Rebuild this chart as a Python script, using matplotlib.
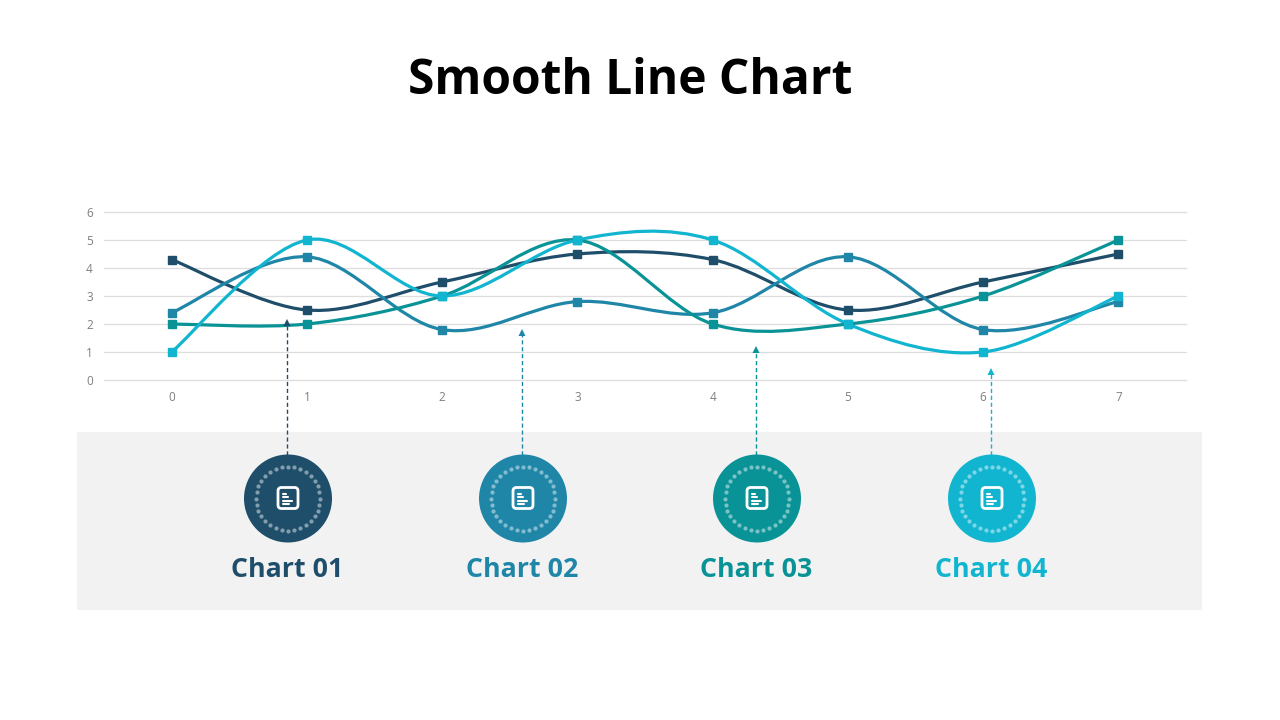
# Smooth line chart slide
import numpy as np
import matplotlib
matplotlib.use('Agg')
import matplotlib.pyplot as plt
from matplotlib.path import Path
from matplotlib.patches import PathPatch, Circle, Rectangle, FancyBboxPatch

# Data
x_vals = [0, 1, 2, 3, 4, 5, 6, 7]
chart_01 = [4.3, 2.5, 3.5, 4.5, 4.3, 2.5, 3.5, 4.5]
chart_02 = [2.4, 4.4, 1.8, 2.8, 2.4, 4.4, 1.8, 2.8]
chart_03 = [2, 2, 3, 5, 2, 2, 3, 5]
chart_04 = [1, 5, 3, 5, 5, 2, 1, 3]
y_ticks = [0, 1, 2, 3, 4, 5, 6]
names = ['Chart 01', 'Chart 02', 'Chart 03', 'Chart 04']
colors = ['#1F4E6B', '#1F86A8', '#0A9396', '#12B5D0']
series = [chart_01, chart_02, chart_03, chart_04]


# Excel style smoothing, bezier through every point
def smooth_path(xs, ys):
    pts = np.column_stack([xs, ys]).astype(float)
    n = len(pts)
    verts = [pts[0]]
    codes = [Path.MOVETO]
    for i in range(n - 1):
        p0 = pts[max(i - 1, 0)]
        p1 = pts[i]
        p2 = pts[i + 1]
        p3 = pts[min(i + 2, n - 1)]
        verts += [p1 + (p2 - p0) / 6, p2 - (p3 - p1) / 6, p2]
        codes += [Path.CURVE4, Path.CURVE4, Path.CURVE4]
    return Path(verts, codes)


fig = plt.figure(figsize=(12.8, 7.2), dpi=100, facecolor='white')

# Overlay in pixel coords for the slide furniture
bg = fig.add_axes([0, 0, 1, 1], zorder=0)
bg.set_xlim(0, 1280)
bg.set_ylim(720, 0)
bg.axis('off')
bg.add_patch(Rectangle((77, 432), 1125, 178, fc='#F2F2F2', ec='none'))

# Chart
ax = fig.add_axes([104 / 1280, 1 - 380 / 720, (1186 - 104) / 1280, 168 / 720], zorder=1)
ax.patch.set_alpha(0)
ax.set_xlim(-0.5, 7.5)
ax.set_ylim(0, 6)
ax.set_xticks(x_vals)
ax.set_yticks(y_ticks)
ax.tick_params(length=0, labelsize=8.5, labelcolor='#7F7F7F')
ax.tick_params(axis='x', pad=8)
ax.tick_params(axis='y', pad=8)
ax.grid(axis='y', color='#DDDDDD', lw=0.9, clip_on=False)
ax.set_axisbelow(True)
for s in ax.spines.values():
    s.set_visible(False)
for lab in ax.get_xticklabels() + ax.get_yticklabels():
    lab.set_family('Open Sans')

for vals, col in zip(series, colors):
    ax.add_patch(PathPatch(smooth_path(x_vals, vals), fc='none', ec=col, lw=2.3,
                           capstyle='round', clip_on=False))
    ax.plot(x_vals, vals, ls='none', marker='s', ms=5.5, color=col, clip_on=False)

# Circles, arrows and labels
top = fig.add_axes([0, 0, 1, 1], zorder=2)
top.set_xlim(0, 1280)
top.set_ylim(720, 0)
top.axis('off')
top.patch.set_alpha(0)

centers = [288, 523, 757, 992]
arrow_tips = [319, 329, 346, 368]
cy = 498.5
for cx, tip, name, col in zip(centers, arrow_tips, names, colors):
    ax_x = cx - 1
    top.plot([ax_x, ax_x], [cy - 44, tip + 6], color=col, lw=1, ls=(0, (3, 2)))
    top.fill([ax_x - 3.5, ax_x + 3.5, ax_x], [tip + 7, tip + 7, tip], color=col, lw=0)
    top.add_patch(Circle((cx, cy), 44, fc=col, ec='none'))
    ang = np.linspace(0, 2 * np.pi, 32, endpoint=False)
    top.scatter(cx + 32 * np.cos(ang), cy + 32 * np.sin(ang), s=9, marker='o',
                color='white', alpha=0.45, lw=0)
    top.add_patch(FancyBboxPatch((cx - 10, cy - 11), 20, 21,
                                 boxstyle='round,pad=0,rounding_size=3.5',
                                 fc='none', ec='white', lw=2))
    for dy, w in zip((-5, -1.5, 2, 5), (2.5, 5, 8.5, 6)):
        top.plot([cx - 5, cx - 5 + w], [cy + dy, cy + dy], color='white', lw=1.5,
                 solid_capstyle='round')
    top.text(cx - 1, 570, name, color=col, fontsize=19.3, fontweight='bold',
             family='Open Sans', ha='center', va='center')

top.text(630.5, 81, 'Smooth Line Chart', color='black', fontsize=34.5, fontweight='bold',
         family='Open Sans', ha='center', va='center')

fig.savefig('out.png', dpi=100)
